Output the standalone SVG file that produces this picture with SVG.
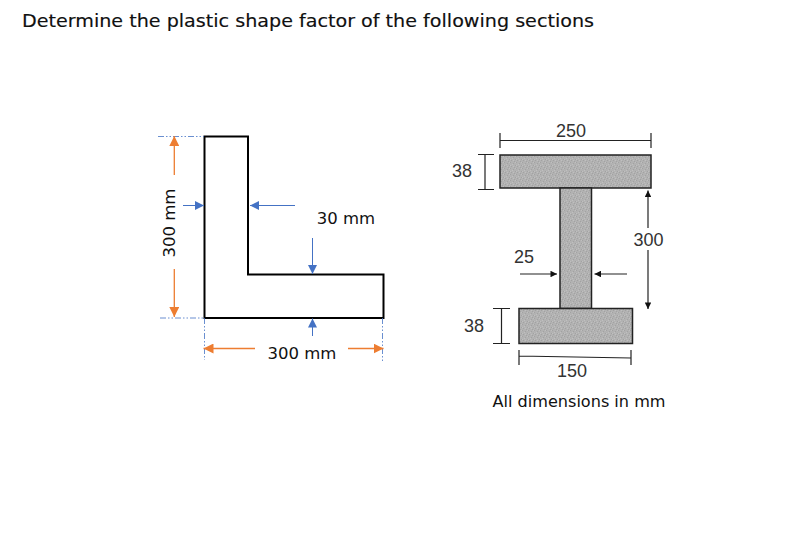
<svg xmlns="http://www.w3.org/2000/svg" width="792" height="535" viewBox="0 0 792 535">
<style>
.d{font-family:"DejaVu Sans",Verdana,sans-serif;fill:#111}
.a{font-family:"Liberation Sans",Arial,sans-serif;fill:#333;font-size:18px}
.blue{stroke:#4472c4;stroke-width:1;fill:none}
.org{stroke:#ed7d31;stroke-width:1.3;fill:none}
.ext{stroke:#4472c4;stroke-width:.8;fill:none;stroke-dasharray:6 2 1.500 2 1.500 2}
.k{stroke:#222;stroke-width:1.200;fill:none}
.sec{fill:url(#stipple);stroke:#222;stroke-width:1.500}
</style>
<defs>
<pattern id="stipple" width="6" height="6" patternUnits="userSpaceOnUse">
<rect width="6" height="6" fill="#b2b2b2"/>
<path d="M0 0h1v1H0zM3 1h1v1H3zM5 3h1v1H5zM1 4h1v1H1zM4 5h1v1H4z" fill="#a2a2a2"/>
<path d="M2 2h1v1H2zM5 0h1v1H5zM0 3h1v1H0zM3 4h1v1H3z" fill="#c0c0c0"/>
</pattern>
<marker id="mo" viewBox="0 0 10 10" refX="10" refY="5" markerWidth="10" markerHeight="10" markerUnits="userSpaceOnUse" orient="auto"><path d="M0 0L10 5L0 10Z" fill="#ed7d31"/></marker>
<marker id="mb" viewBox="0 0 10 10" refX="10" refY="5" markerWidth="9" markerHeight="9" markerUnits="userSpaceOnUse" orient="auto"><path d="M0 0L10 5L0 10Z" fill="#4472c4"/></marker>
<marker id="mk" viewBox="0 0 10 10" refX="10" refY="5" markerWidth="8" markerHeight="6.500" markerUnits="userSpaceOnUse" orient="auto"><path d="M0 0L10 5L0 10Z" fill="#111"/></marker>
</defs>
<rect width="792" height="535" fill="#fff"/>
<text id="title" class="d" x="22" y="27" font-size="18" fill="#000" stroke="#000" stroke-width=".15" textLength="572" lengthAdjust="spacingAndGlyphs">Determine the plastic shape factor of the following sections</text>
<g id="angle-section"><path d="M204.500 136.500H248V274.500H383.500V318H204.500Z" fill="#fff" stroke="#000" stroke-width="2"/></g>
<g id="tee-section">
<rect class="sec" x="500" y="155" width="151" height="33"/>
<rect class="sec" x="560" y="188" width="31.500" height="120.500"/>
<rect class="sec" x="519" y="308.500" width="113.500" height="35"/>
</g>
<g id="connectors">
<path class="ext" d="M158 136.500H204M160 318H204M204.500 318V360M382.500 318V362"/>
<path class="org" marker-end="url(#mo)" d="M174.300 175V136"/>
<path class="org" marker-end="url(#mo)" d="M174.300 269V317"/>
<path class="org" marker-end="url(#mo)" d="M255 348.500H203.500"/>
<path class="org" marker-end="url(#mo)" d="M348 348.500H383.500"/>
<path class="blue" marker-end="url(#mb)" d="M183 205.500H204"/>
<path class="blue" marker-end="url(#mb)" d="M295 205.500H250"/>
<path class="blue" marker-end="url(#mb)" d="M312.500 238V274"/>
<path class="blue" marker-end="url(#mb)" d="M312.500 336V318.500"/>
<path class="k" d="M500 133V148M651 133V148M500 140.500H651"/>
<path class="k" d="M478 154.500H494M478 189.500H494M485 154.500V189.500"/>
<path class="k" d="M493 308.500H510M493 343.500H510M501.500 308.500V343.500"/>
<path class="k" d="M519 350V365M631 350V365M519 356L631 358"/>
<path class="k" marker-end="url(#mk)" d="M648 228V190.500"/>
<path class="k" marker-end="url(#mk)" d="M648 250V309"/>
<path class="k" marker-end="url(#mk)" d="M520 274H557"/>
<path class="k" marker-end="url(#mk)" d="M627 274H594.500"/>
</g>
<g id="labels">
<text class="d" x="346" y="224" font-size="16.500" text-anchor="middle">30 mm</text>
<text class="d" x="302" y="359" font-size="16.500" text-anchor="middle">300 mm</text>
<text class="d" transform="translate(175 223) rotate(-90)" font-size="16.500" text-anchor="middle">300 mm</text>
<text class="a" x="571" y="136.500" text-anchor="middle">250</text>
<text class="a" x="462" y="177" text-anchor="middle">38</text>
<text class="a" x="474" y="331.500" text-anchor="middle">38</text>
<text class="a" x="648.500" y="245.500" text-anchor="middle">300</text>
<text class="a" x="524" y="262.500" text-anchor="middle">25</text>
<text class="a" x="572" y="377" text-anchor="middle">150</text>
<text class="d" x="579" y="407" font-size="15.500" text-anchor="middle" textLength="173" lengthAdjust="spacingAndGlyphs">All dimensions in mm</text>
</g>
</svg>
